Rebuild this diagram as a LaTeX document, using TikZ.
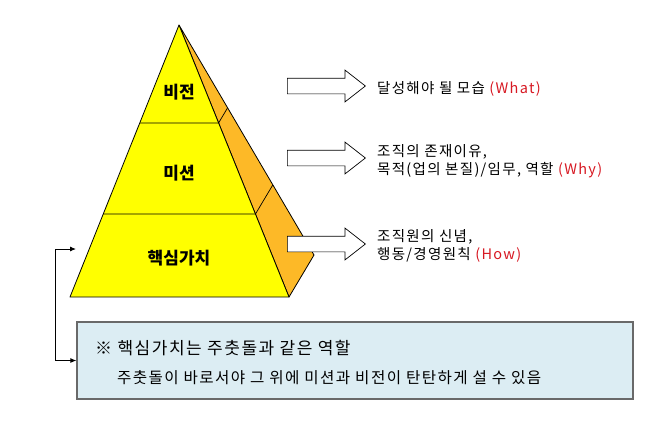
\documentclass[tikz,border=0pt]{standalone}
\usepackage{fontspec}
\setmainfont{Noto Sans CJK KR}
\newfontfamily\spacedkr{Noto Sans CJK KR}[LetterSpace=9]
\usetikzlibrary{shapes.arrows,arrows.meta,calc}
\definecolor{pyrfront}{RGB}{255,255,0}
\definecolor{pyrside}{RGB}{253,185,39}
\definecolor{notefill}{RGB}{220,237,243}
\definecolor{notedraw}{RGB}{105,105,105}
\definecolor{engred}{RGB}{215,25,35}
\tikzset{
  layer/.style={font=\fontsize{17}{20}\selectfont\bfseries},
  fatarrow/.style={draw,fill=white,line width=0.7pt,single arrow,
    single arrow head extend=8pt,single arrow tip angle=76,
    minimum height=78pt,inner xsep=0pt,inner ysep=7.5pt,anchor=west},
  desc/.style={anchor=west,align=left,inner sep=0pt,
    font=\spacedkr\fontsize{14.5}{18}\selectfont},
  note/.style={draw=notedraw,fill=notefill,line width=1.2pt,
    minimum width=556pt,minimum height=77pt,inner sep=0pt},
}
\begin{document}
\begin{tikzpicture}[x=1pt,y=-1pt]
\useasboundingbox (0,0) rectangle (668,424);
% corners of the pyramid
\coordinate (apex) at (179,25);
\coordinate (baseL) at (70,297);
\coordinate (baseR) at (289,297);
\coordinate (backR) at (314,255);
% faces
\draw[line width=0.8pt,fill=pyrside,line join=round] (apex) -- (backR) -- (baseR) -- cycle;
\draw[line width=0.8pt,fill=pyrfront,line join=round] (apex) -- (baseL) -- (baseR) -- cycle;
% lines between the tiers
\foreach \t in {0.36,0.695}
  \draw[line width=0.7pt] ($(apex)!\t!(baseL)$) -- ($(apex)!\t!(baseR)$) -- ($(apex)!\t!(backR)$);
% names of the tiers
\node[layer] (vision) at (179,92) {비전};
\node[layer] (mission) at (179,173) {미션};
\node[layer] (core) at (179,258) {핵심가치};
% arrows and what they mean
\node[fatarrow] (arrV) at (287,86) {};
\node[fatarrow] (arrM) at (287,158) {};
\node[fatarrow] (arrC) at (287,244) {};
\node[desc] (txtV) at (377,89) {달성해야 될 모습 {\color{engred}(What)}};
\node[desc] (txtM) at (377,161) {조직의 존재이유,\\목적(업의 본질)/임무, 역할 {\color{engred}(Why)}};
\node[desc] (txtC) at (377,246) {조직원의 신념,\\행동/경영원칙 {\color{engred}(How)}};
% the note below
\node[note] (note) at (355,360.5) {};
\node[anchor=west,inner sep=0pt,font=\spacedkr\fontsize{17}{20}\selectfont] (noteA) at (95,348) {※ 핵심가치는 주춧돌과 같은 역할};
\node[anchor=west,inner sep=0pt,font=\spacedkr\fontsize{15.6}{18}\selectfont] (noteB) at (117,378) {주춧돌이 바로서야 그 위에 미션과 비전이 탄탄하게 설 수 있음};
% link between pyramid and note
\coordinate (coreIn) at (76,249);
\draw[line width=0.9pt,{Latex[length=6pt,width=5pt]}-{Latex[length=6pt,width=5pt]}] (coreIn) -- ++(-21,0) |- (note.west);
\end{tikzpicture}
\end{document}
